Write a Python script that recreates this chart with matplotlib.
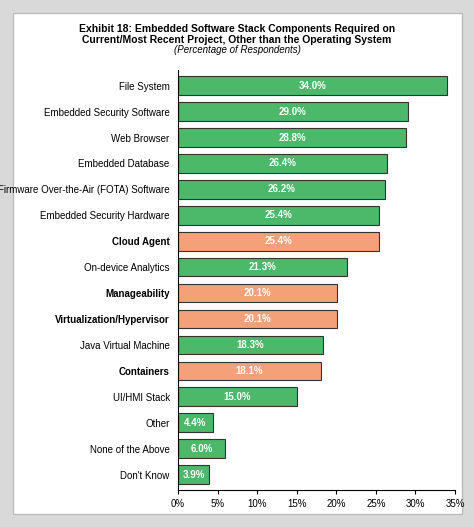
import matplotlib
matplotlib.use('Agg')
import matplotlib.pyplot as plt
from matplotlib.patches import FancyBboxPatch

categories = ['File System', 'Embedded Security Software', 'Web Browser', 'Embedded Database',
              'Firmware Over-the-Air (FOTA) Software', 'Embedded Security Hardware', 'Cloud Agent',
              'On-device Analytics', 'Manageability', 'Virtualization/Hypervisor',
              'Java Virtual Machine', 'Containers', 'UI/HMI Stack', 'Other',
              'None of the Above', "Don't Know"]
values = [34.0, 29.0, 28.8, 26.4, 26.2, 25.4, 25.4, 21.3, 20.1, 20.1, 18.3, 18.1, 15.0, 4.4, 6.0, 3.9]
highlight = ['Cloud Agent', 'Manageability', 'Virtualization/Hypervisor', 'Containers']

plt.rcParams['font.family'] = ['Liberation Sans', 'DejaVu Sans']

fig = plt.figure(figsize=(4.74, 5.27), dpi=100)
fig.patch.set_facecolor('#d9d9d9')
panel = FancyBboxPatch((0.027, 0.024), 0.948, 0.952, boxstyle='square,pad=0',
                       transform=fig.transFigure, facecolor='white', edgecolor='#bbbbbb',
                       lw=1, zorder=-5)
fig.patches.append(panel)

ax = fig.add_axes([0.3755, 0.07, 0.5845, 0.797])
ax.set_facecolor('none')
ypos = list(range(len(categories)))[::-1]
for y, c, v in zip(ypos, categories, values):
    hot = c in highlight
    ax.barh(y, v, height=0.72, color='#f4a078' if hot else '#4cb86a',
            edgecolor='#333333', lw=0.8)
    ax.text(v / 2, y, f'{v:.1f}%', ha='center', va='center', color='white',
            fontsize=7, fontweight='bold')

ax.set_yticks(ypos)
ax.set_yticklabels(categories, fontsize=7)
for lab in ax.get_yticklabels():
    if lab.get_text() in highlight:
        lab.set_fontweight('bold')
ax.tick_params(axis='y', length=0, pad=6)
ax.set_xlim(0, 35)
ax.set_ylim(-0.6, len(categories) - 0.4)
ax.set_xticks(range(0, 36, 5))
ax.set_xticklabels([f'{t}%' for t in range(0, 36, 5)], fontsize=7)
ax.tick_params(axis='x', length=3)
for s in ['top', 'right']:
    ax.spines[s].set_visible(False)

fig.text(0.5, 0.955, 'Exhibit 18: Embedded Software Stack Components Required on\n'
         'Current/Most Recent Project, Other than the Operating System',
         ha='center', va='top', fontsize=7.5, fontweight='bold', linespacing=1.1)
fig.text(0.5, 0.915, '(Percentage of Respondents)', ha='center', va='top',
         fontsize=7, style='italic')

fig.savefig('out.png', dpi=100)
